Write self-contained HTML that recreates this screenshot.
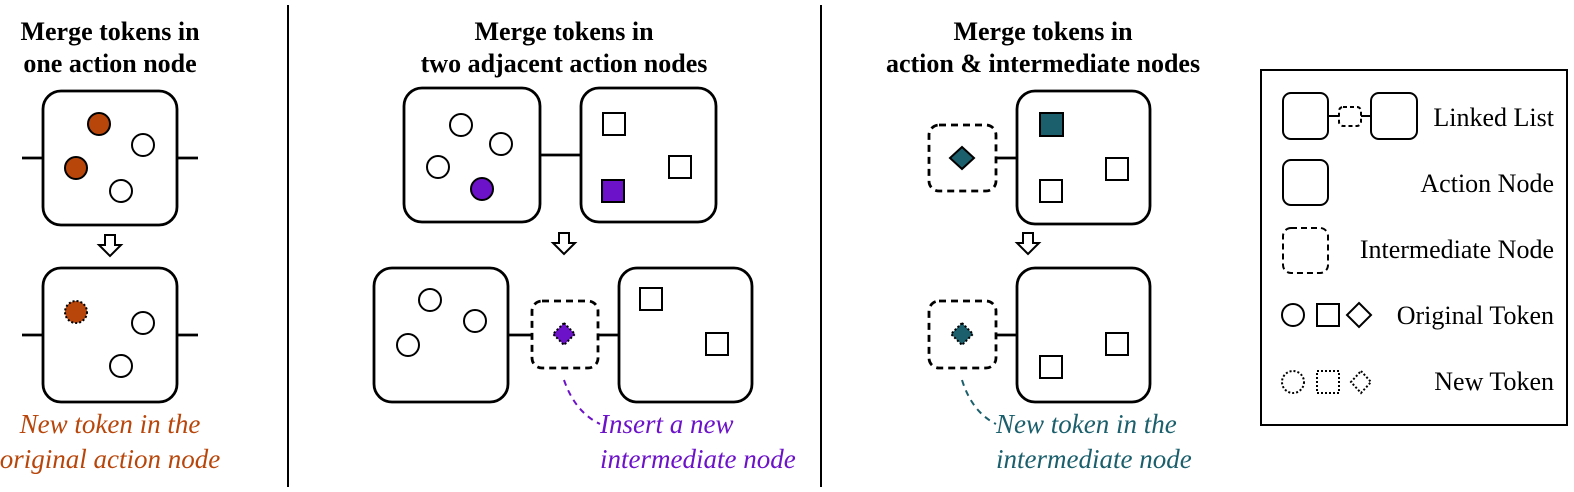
<!DOCTYPE html>
<html><head><meta charset="utf-8"><style>
html,body{margin:0;padding:0;background:#fff;}
svg{display:block;}
text{font-family:"Liberation Serif",serif;}
.t{font-weight:bold;font-size:26px;text-anchor:middle;}
.i{font-style:italic;font-size:27px;}
.l{font-size:26px;text-anchor:end;}
</style></head><body>
<svg width="1574" height="492" viewBox="0 0 1574 492" xmlns="http://www.w3.org/2000/svg">
<g fill="none" stroke="#000" stroke-width="2">
<line x1="288" y1="5" x2="288" y2="487"/>
<line x1="821" y1="5" x2="821" y2="487"/>
</g>
<!-- titles -->
<text class="t" x="110" y="40">Merge tokens in</text>
<text class="t" x="110" y="72">one action node</text>
<text class="t" x="564" y="40">Merge tokens in</text>
<text class="t" x="564" y="72">two adjacent action nodes</text>
<text class="t" x="1043" y="40">Merge tokens in</text>
<text class="t" x="1043" y="72">action &amp; intermediate nodes</text>

<defs>
<path id="arr" d="M-5,-10 h10 v10 h6 l-11,11 l-11,-11 h6 z" fill="#fff" stroke="#000" stroke-width="2"/>
</defs>

<!-- Panel 1 -->
<g stroke="#000" stroke-width="2.8" fill="#fff">
<line x1="22" y1="158" x2="43" y2="158"/><line x1="177" y1="158" x2="198" y2="158"/>
<rect x="43" y="91" width="134" height="134" rx="18"/>
<circle cx="99" cy="124" r="11" fill="#b8460b" stroke-width="2"/>
<circle cx="76" cy="168" r="11" fill="#b8460b" stroke-width="2"/>
<circle cx="143" cy="145" r="11" stroke-width="2"/>
<circle cx="121" cy="191" r="11" stroke-width="2"/>
<line x1="22" y1="335" x2="43" y2="335"/><line x1="177" y1="335" x2="198" y2="335"/>
<rect x="43" y="268" width="134" height="134" rx="18"/>
<circle cx="76" cy="312" r="11" fill="#b8460b" stroke-width="2" stroke-dasharray="2 2"/>
<circle cx="143" cy="323" r="11" stroke-width="2"/>
<circle cx="121" cy="366" r="11" stroke-width="2"/>
</g>
<use href="#arr" x="110" y="245"/>
<text class="i" x="110" y="433" text-anchor="middle" fill="#b8460b">New token in the</text>
<text class="i" x="110" y="468" text-anchor="middle" fill="#b8460b">original action node</text>

<!-- Panel 2 -->
<g stroke="#000" stroke-width="2.8" fill="#fff">
<line x1="540" y1="155" x2="581" y2="155"/>
<rect x="404" y="88" width="136" height="134" rx="18"/>
<rect x="581" y="88" width="135" height="134" rx="18"/>
<g stroke-width="2">
<circle cx="461" cy="125" r="11"/><circle cx="501" cy="144" r="11"/><circle cx="438" cy="167" r="11"/>
<circle cx="482" cy="189" r="11" fill="#6c12c9"/>
<rect x="603" y="113" width="22" height="22"/><rect x="669" y="156" width="22" height="22"/>
<rect x="602" y="180" width="22" height="22" fill="#6c12c9"/>
</g>
<line x1="508" y1="335" x2="532" y2="335"/><line x1="598" y1="335" x2="619" y2="335"/>
<rect x="374" y="268" width="134" height="134" rx="18"/>
<rect x="532" y="301" width="66" height="67" rx="10" stroke-dasharray="7 5"/>
<rect x="619" y="268" width="133" height="134" rx="18"/>
<g stroke-width="2">
<circle cx="430" cy="300" r="11"/><circle cx="475" cy="321" r="11"/><circle cx="408" cy="345" r="11"/>
<rect x="640" y="288" width="22" height="22"/><rect x="706" y="333" width="22" height="22"/>
<path d="M564,323 l11,11 l-11,11 l-11,-11 z" fill="#6c12c9" stroke-dasharray="2 2"/>
</g>
</g>
<use href="#arr" x="564" y="243"/>
<path d="M564,380 Q575,412 600,424" fill="none" stroke="#6c12c9" stroke-width="2" stroke-dasharray="6 5"/>
<text class="i" x="600" y="433" fill="#6c12c9">Insert a new</text>
<text class="i" x="600" y="468" fill="#6c12c9">intermediate node</text>

<!-- Panel 3 -->
<g stroke="#000" stroke-width="2.8" fill="#fff">
<line x1="996" y1="158" x2="1017" y2="158"/>
<rect x="929" y="125" width="67" height="66" rx="10" stroke-dasharray="7 5"/>
<rect x="1017" y="91" width="133" height="133" rx="18"/>
<g stroke-width="2">
<path d="M962,147 l12,11 l-12,11 l-12,-11 z" fill="#1b5f6c"/>
<rect x="1040" y="113" width="23" height="23" fill="#1b5f6c"/>
<rect x="1106" y="158" width="22" height="22"/>
<rect x="1040" y="180" width="22" height="22"/>
</g>
<line x1="996" y1="335" x2="1017" y2="335"/>
<rect x="929" y="301" width="67" height="67" rx="10" stroke-dasharray="7 5"/>
<rect x="1017" y="268" width="133" height="134" rx="18"/>
<g stroke-width="2">
<path d="M962,323 l11,11 l-11,11 l-11,-11 z" fill="#1b5f6c" stroke-dasharray="2 2"/>
<rect x="1040" y="356" width="22" height="22"/>
<rect x="1106" y="333" width="22" height="22"/>
</g>
</g>
<use href="#arr" x="1028" y="243"/>
<path d="M962,380 Q972,412 996,424" fill="none" stroke="#1b5f6c" stroke-width="2" stroke-dasharray="6 5"/>
<text class="i" x="996" y="433" fill="#1b5f6c">New token in the</text>
<text class="i" x="996" y="468" fill="#1b5f6c">intermediate node</text>

<!-- Legend -->
<g stroke="#000" fill="#fff" stroke-width="2">
<rect x="1261" y="70" width="306" height="355" fill="none"/>
<line x1="1328" y1="116" x2="1339" y2="116"/><line x1="1361" y1="116" x2="1371" y2="116"/>
<rect x="1283" y="93" width="45" height="46" rx="8"/>
<rect x="1339" y="107" width="22" height="19" rx="4" stroke-dasharray="4 3"/>
<rect x="1371" y="93" width="46" height="46" rx="8"/>
<rect x="1283" y="160" width="45" height="45" rx="8"/>
<rect x="1283" y="228" width="45" height="45" rx="8" stroke-dasharray="6 4"/>
<circle cx="1293" cy="315" r="11"/>
<rect x="1317" y="304" width="22" height="22"/>
<path d="M1359,303 l12,12 l-12,12 l-12,-12 z"/>
<g stroke-dasharray="2 2">
<circle cx="1293" cy="382" r="11"/>
<rect x="1317" y="371" width="22" height="22"/>
<path d="M1361,371 l10,11 l-10,11 l-10,-11 z"/>
</g>
</g>
<text class="l" x="1554" y="126">Linked List</text>
<text class="l" x="1554" y="192">Action Node</text>
<text class="l" x="1554" y="258">Intermediate Node</text>
<text class="l" x="1554" y="324">Original Token</text>
<text class="l" x="1554" y="390">New Token</text>
</svg>
</body></html>
